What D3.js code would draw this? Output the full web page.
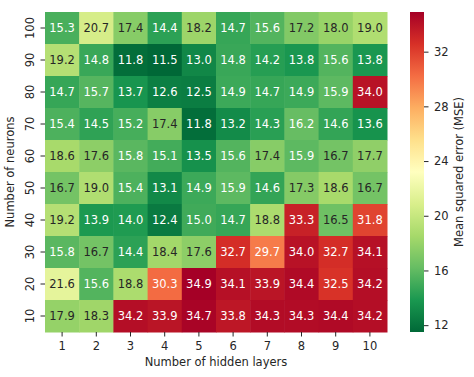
<!DOCTYPE html>
<html><head><meta charset="utf-8">
<script src="https://cdn.jsdelivr.net/npm/d3@7"></script>
<style>body{margin:0;background:#fff}svg{font-family:"DejaVu Sans",sans-serif}</style>
</head><body><svg id="c" width="474" height="377"></svg>
<script>
const hiddenLayers = [1,2,3,4,5,6,7,8,9,10];
const neurons = [100,90,80,70,60,50,40,30,20,10];
const mse = [
  [15.3,20.7,17.4,14.4,18.2,14.7,15.6,17.2,18.0,19.0],
  [19.2,14.8,11.8,11.5,13.0,14.8,14.2,13.8,15.6,13.8],
  [14.7,15.7,13.7,12.6,12.5,14.9,14.7,14.9,15.9,34.0],
  [15.4,14.5,15.2,17.4,11.8,13.2,14.3,16.2,14.6,13.6],
  [18.6,17.6,15.8,15.1,13.5,15.6,17.4,15.9,16.7,17.7],
  [16.7,19.0,15.4,13.1,14.9,15.9,14.6,17.3,18.6,16.7],
  [19.2,13.9,14.0,12.4,15.0,14.7,18.8,33.3,16.5,31.8],
  [15.8,16.7,14.4,18.4,17.6,32.7,29.7,34.0,32.7,34.1],
  [21.6,15.6,18.8,30.3,34.9,34.1,33.9,34.4,32.5,34.2],
  [17.9,18.3,34.2,33.9,34.7,33.8,34.3,34.3,34.4,34.2]
];
const cbTicks = [12,16,20,24,28,32];
const rdylgn = ["#a50026","#d73027","#f46d43","#fdae61","#fee08b","#ffffbf","#d9ef8b","#a6d96a","#66bd63","#1a9850","#006837"];

const svg = d3.select("#c");
const L=45,R=387,T=12,B=332;
const all = mse.flat();
const vmin = d3.min(all), vmax = d3.max(all);
const stops = rdylgn.slice().reverse();
const color = d3.scaleLinear()
  .domain(d3.range(stops.length).map(i => vmin + (vmax-vmin)*i/(stops.length-1)))
  .range(stops).interpolate(d3.interpolateRgb);

const x = d3.scaleBand().domain(hiddenLayers).range([L,R]);
const y = d3.scaleBand().domain(neurons).range([T,B]);

function lum(c){
  const o = d3.rgb(c);
  const f = v => { v/=255; return v<=0.03928 ? v/12.92 : Math.pow((v+0.055)/1.055,2.4); };
  return 0.2126*f(o.r)+0.7152*f(o.g)+0.0722*f(o.b);
}

const cells = [];
neurons.forEach((n,i)=>hiddenLayers.forEach((h,j)=>cells.push({n,h,v:mse[i][j]})));
svg.append("g").selectAll("rect").data(cells).join("rect")
  .attr("x",d=>x(d.h)).attr("y",d=>y(d.n))
  .attr("width",x.bandwidth()+0.5).attr("height",y.bandwidth()+0.5)
  .attr("fill",d=>color(d.v));
svg.append("g").selectAll("text").data(cells).join("text")
  .attr("x",d=>x(d.h)+x.bandwidth()/2).attr("y",d=>y(d.n)+y.bandwidth()/2)
  .attr("text-anchor","middle").attr("dominant-baseline","central")
  .attr("font-size",11.5)
  .attr("fill",d=>lum(color(d.v))>0.408?"#262626":"#fff")
  .text(d=>d.v.toFixed(1));

const xa = svg.append("g").attr("transform",`translate(0,${B})`)
  .call(d3.axisBottom(x).tickSize(4.5).tickPadding(5.5));
xa.select(".domain").remove();
xa.selectAll("text").attr("font-size",11.5).attr("fill","#262626").attr("font-family","DejaVu Sans");
xa.selectAll("line").attr("stroke","#262626");

const ya = svg.append("g").attr("transform",`translate(${L},0)`)
  .call(d3.axisLeft(y).tickSize(4.5).tickPadding(3));
ya.select(".domain").remove();
ya.selectAll("line").attr("stroke","#262626");
ya.selectAll("text").attr("font-size",11.5).attr("fill","#262626").attr("font-family","DejaVu Sans")
  .attr("text-anchor","middle").attr("x",0).attr("y",0).attr("dy","0.35em")
  .attr("transform","translate(-15.5,0) rotate(-90)");

svg.append("text").attr("x",(L+R)/2).attr("y",366).attr("text-anchor","middle")
  .attr("font-size",11.5).attr("fill","#262626").text("Number of hidden layers");
svg.append("text").attr("transform",`translate(14,${(T+B)/2}) rotate(-90)`)
  .attr("text-anchor","middle").attr("font-size",11.5).attr("fill","#262626").text("Number of neurons");

// colorbar
const cbX=410, cbW=14;
const cy = d3.scaleLinear().domain([vmin,vmax]).range([B,T]);
const defs = svg.append("defs");
const grad = defs.append("linearGradient").attr("id","g").attr("x1",0).attr("y1",1).attr("x2",0).attr("y2",0);
stops.forEach((c,i)=>grad.append("stop").attr("offset",i/(stops.length-1)).attr("stop-color",c));
svg.append("rect").attr("x",cbX).attr("y",T).attr("width",cbW).attr("height",B-T).attr("fill","url(#g)");
const ca = svg.append("g").attr("transform",`translate(${cbX+cbW},0)`)
  .call(d3.axisRight(cy).tickValues(cbTicks).tickSize(4.5).tickPadding(5.5));
ca.select(".domain").remove();
ca.selectAll("line").attr("stroke","#262626");
ca.selectAll("text").attr("font-size",11.5).attr("fill","#262626").attr("font-family","DejaVu Sans");
svg.append("text").attr("transform",`translate(463,${(T+B)/2}) rotate(-90)`)
  .attr("text-anchor","middle").attr("font-size",11.5).attr("fill","#262626").text("Mean squared error (MSE)");
</script></body></html>
